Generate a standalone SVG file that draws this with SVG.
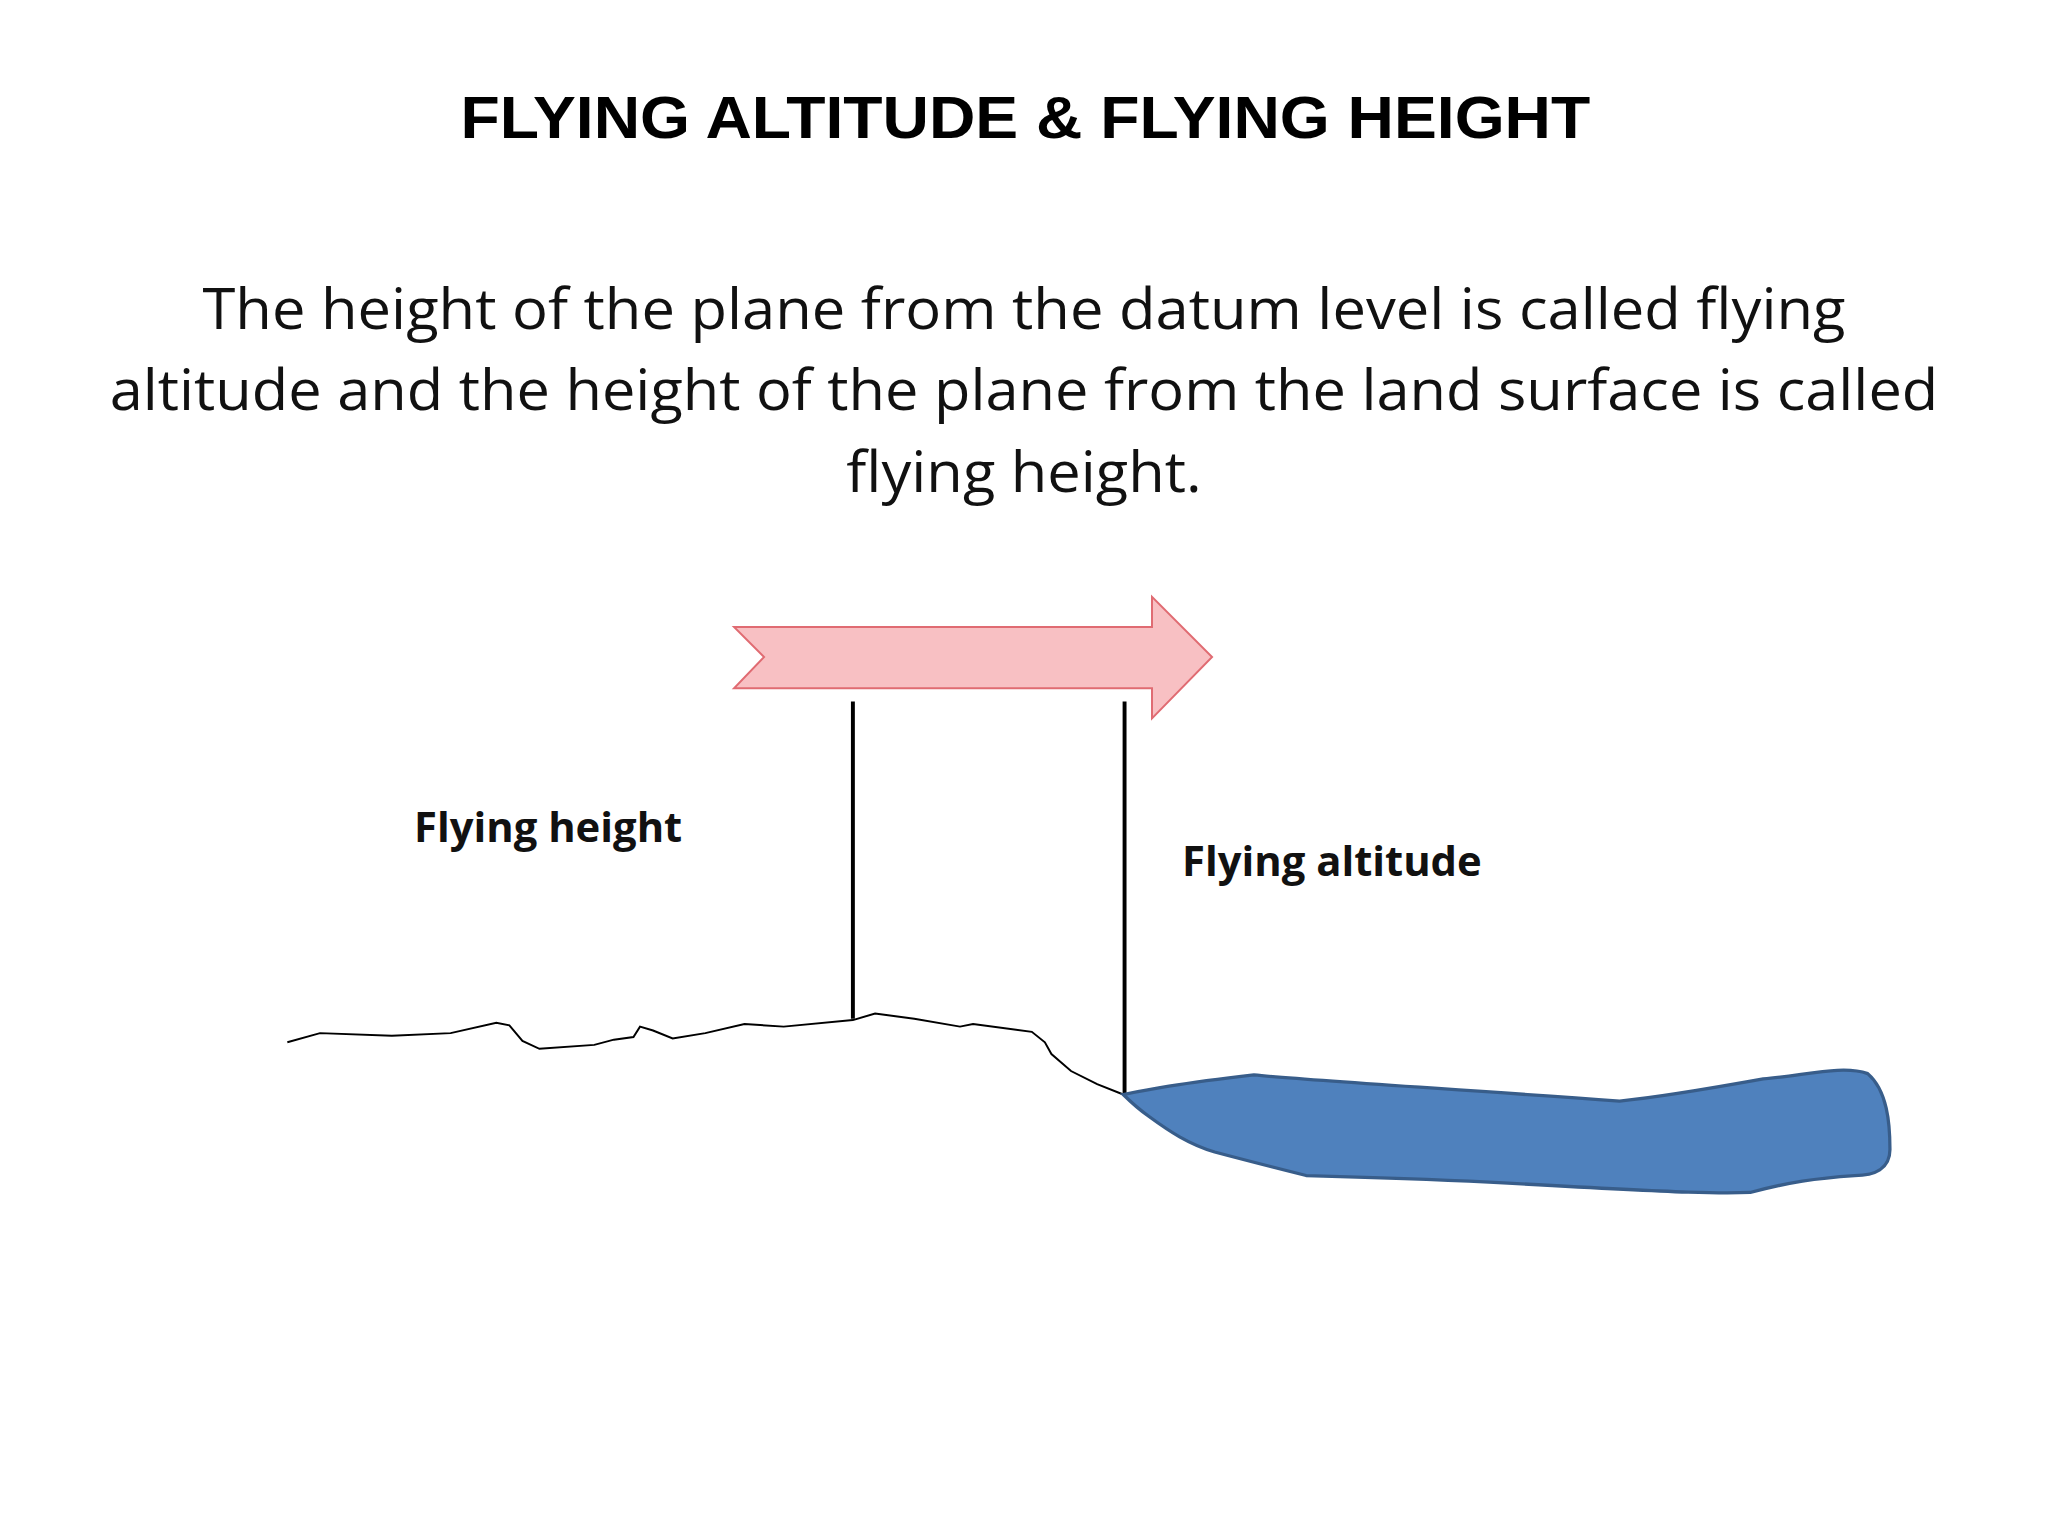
<svg xmlns="http://www.w3.org/2000/svg" width="2048" height="1536" viewBox="0 0 2048 1536">
<style>
.t{font-family:"Liberation Sans",Arial,sans-serif;font-weight:bold;fill:#000}
.b{font-family:"Open Sans","Liberation Sans",sans-serif;fill:#111}
.l{font-family:"Open Sans","Liberation Sans",sans-serif;font-weight:bold;fill:#111}
</style>
<rect width="2048" height="1536" fill="#fff"/>
<g transform="scale(1.30612)">
<g id="title"><text class="t" x="785" y="106" font-size="46" text-anchor="middle" textLength="865" lengthAdjust="spacingAndGlyphs">FLYING ALTITUDE &amp; FLYING HEIGHT</text></g>
<g id="body">
<text class="b" x="784" y="252" font-size="44" text-anchor="middle" textLength="1258" lengthAdjust="spacingAndGlyphs">The height of the plane from the datum level is called flying</text>
<text class="b" x="784" y="314" font-size="44" text-anchor="middle" textLength="1400" lengthAdjust="spacingAndGlyphs">altitude and the height of the plane from the land surface is called</text>
<text class="b" x="784" y="377" font-size="44" text-anchor="middle" textLength="272" lengthAdjust="spacingAndGlyphs">flying height.</text>
</g>
<g id="plane"><path d="M562,480 L882,480 L882,457 L928,503 L882,550 L882,527 L562,527 L585,503 Z" fill="#f8c0c3" stroke="#e06b72" stroke-width="1.5"/></g>
<g id="connectors" stroke="#000" stroke-width="3">
<line x1="653" y1="537" x2="653" y2="780"/>
<line x1="861" y1="537" x2="861" y2="838"/>
</g>
<g id="labels">
<text class="l" x="317" y="645" font-size="32">Flying height</text>
<text class="l" x="905" y="671" font-size="32">Flying altitude</text>
</g>
<g id="ground"><polyline fill="none" stroke="#000" stroke-width="1.5" points="220,798 245,791 300,793 345,791 380,783 390,785 400,797 413,803 455,800 470,796 485,794 490,786 500,789 515,795 540,791 570,784 600,786 653,781 670,776 700,780 735,786 745,784 790,790 800,798 805,807 820,820 840,830 860,838"/></g>
<g id="water"><path d="M860,838 C880,834 900,830 960,823 C1000,827 1100,833 1240,843 C1270,840 1300,835 1350,826 C1380,824 1410,815 1430,822 C1445,835 1447,860 1447,880 C1447,895 1435,900 1420,900 C1390,902 1370,905 1340,913 C1320,914 1300,914 1140,905 C1080,902 1000,900 1000,900 C980,895 960,890 930,882 C910,876 895,866 880,855 C870,848 865,843 860,838 Z" fill="#4f81bd" stroke="#385d8a" stroke-width="2.5"/></g>
</g>
</svg>
